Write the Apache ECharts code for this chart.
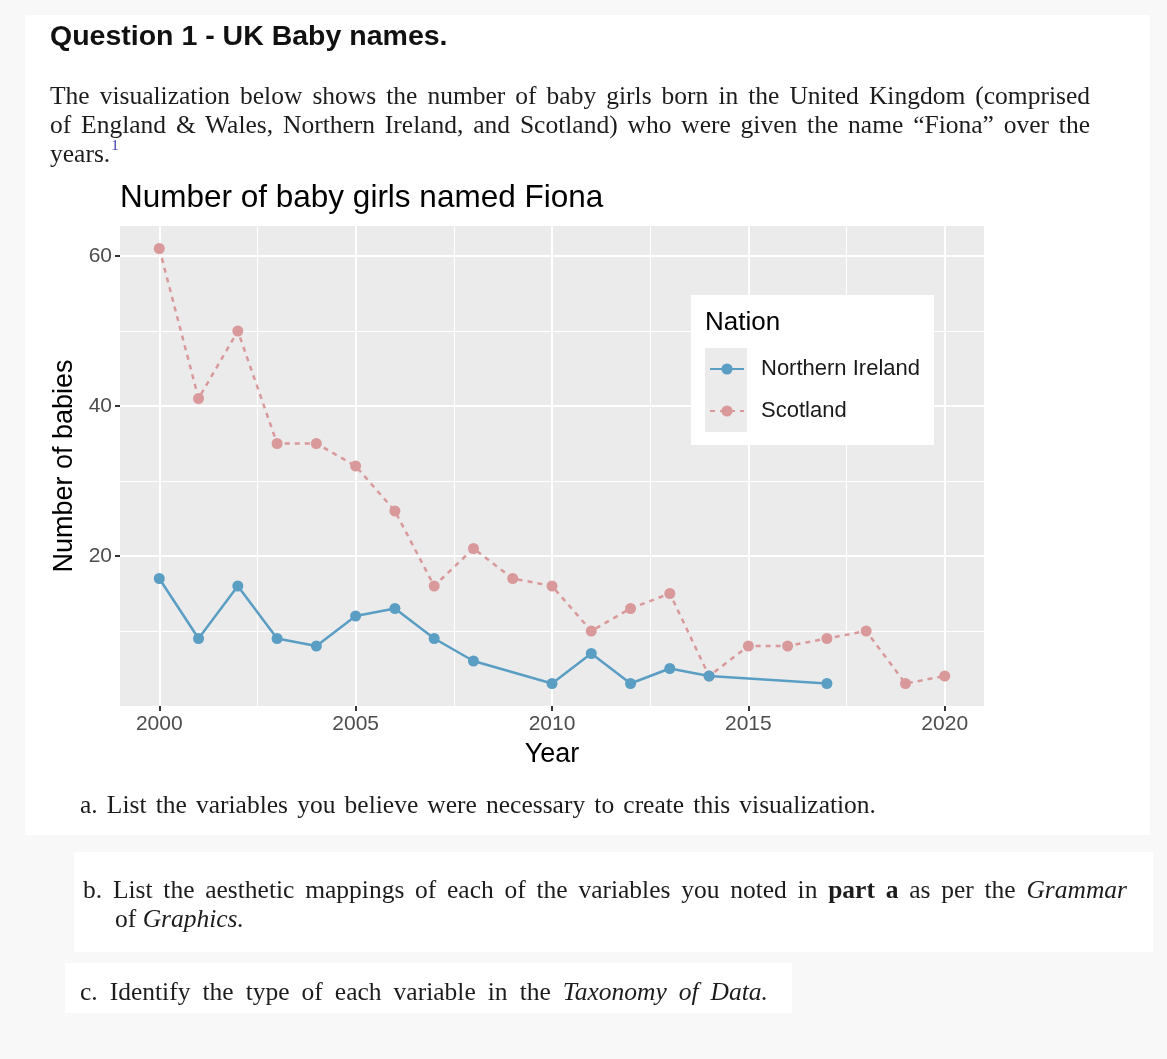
<!DOCTYPE html>
<html>
<head>
<meta charset="utf-8">
<script src="https://cdn.jsdelivr.net/npm/echarts@6/dist/echarts.min.js"></script>
<style>
  html, body { margin: 0; padding: 0; background: #f8f8f8; }
  #page { position: relative; width: 1167px; height: 1059px; overflow: hidden; }
  .card { position: absolute; background: #fff; z-index: 0; }
  #chart { position: absolute; left: 0; top: 0; width: 1167px; height: 1059px; z-index: 1; }
  .ln {
    position: absolute; z-index: 2; white-space: nowrap;
    font-family: 'Liberation Serif', 'Times New Roman', serif;
    font-size: 25.5px; line-height: 27px; color: #1c1c1c;
  }
  .jf { text-align: justify; text-align-last: justify; }
  .head {
    position: absolute; z-index: 2; left: 50px; top: 21px; white-space: nowrap;
    font-family: 'Liberation Sans', Arial, sans-serif; font-weight: bold;
    font-size: 28.5px; line-height: 28.5px; color: #111;
  }
  .fn { color: #3a3aa8; font-size: 15px; position: relative; top: -12px; margin-left: 1px; }
</style>
</head>
<body>
<div id="page">
  <div class="card" style="left:25px; top:15px; width:1125px; height:820px;"></div>
  <div class="card" style="left:74px; top:852px; width:1079px; height:100px;"></div>
  <div class="card" style="left:65px; top:963px; width:727px; height:50px;"></div>

  <div class="head">Question 1 - UK Baby names.</div>
  <div class="ln jf" style="left:50px; top:82px; width:1040px;">The visualization below shows the number of baby girls born in the United Kingdom (comprised</div>
  <div class="ln jf" style="left:50px; top:111px; width:1040px;">of England &amp; Wales, Northern Ireland, and Scotland) who were given the name &ldquo;Fiona&rdquo; over the</div>
  <div class="ln" style="left:50px; top:140px;">years.<span class="fn">1</span></div>

  <div id="chart"></div>

  <div class="ln jf" style="left:80px; top:791px; width:796px;">a. List the variables you believe were necessary to create this visualization.</div>
  <div class="ln jf" style="left:83px; top:876px; width:1044px;">b. List the aesthetic mappings of each of the variables you noted in <b>part a</b> as per the <i>Grammar</i></div>
  <div class="ln" style="left:115px; top:905px;">of <i>Graphics.</i></div>
  <div class="ln jf" style="left:80px; top:978px; width:688px;">c. Identify the type of each variable in the <i>Taxonomy of Data.</i></div>
</div>

<script>
// Northern Ireland (no records for 2009, 2015, 2016)
const niYears = [2000, 2001, 2002, 2003, 2004, 2005, 2006, 2007, 2008, 2010, 2011, 2012, 2013, 2014, 2017];
const niCounts = [17, 9, 16, 9, 8, 12, 13, 9, 6, 3, 7, 3, 5, 4, 3];

// Scotland
const scYears = [2000, 2001, 2002, 2003, 2004, 2005, 2006, 2007, 2008, 2009, 2010,
                 2011, 2012, 2013, 2014, 2015, 2016, 2017, 2018, 2019, 2020];
const scCounts = [61, 41, 50, 35, 35, 32, 26, 16, 21, 17, 16, 10, 13, 15, 4, 8, 8, 9, 10, 3, 4];

// axis breaks (ggplot style: major + minor)
const yearTicks = [2000, 2005, 2010, 2015, 2020];
const yearMinor = [2002.5, 2007.5, 2012.5, 2017.5];
const countTicks = [20, 40, 60];
const countMinor = [10, 30, 50];

const FONT = "'Liberation Sans', Arial, Helvetica, sans-serif";
const BLUE = '#5a9ec4';
const PINK = '#d9999b';

const chart = echarts.init(document.getElementById('chart'), null, { renderer: 'canvas' });

const gridLines = (name, xs, ys, width) => ({
  name: name,
  type: 'line',
  data: [],
  silent: true,
  z: 1,
  markLine: {
    silent: true,
    z: 1,
    animation: false,
    symbol: ['none', 'none'],
    label: { show: false },
    emphasis: { disabled: true },
    lineStyle: { color: '#ffffff', width: width, type: 'solid' },
    data: [...xs.map(v => ({ xAxis: v })), ...ys.map(v => ({ yAxis: v }))]
  }
});

const option = {
  animation: false,
  title: [
    {
      text: 'Number of baby girls named Fiona',
      left: 120, top: 182, padding: 0,
      textStyle: { fontFamily: FONT, fontSize: 31.5, fontWeight: 'normal', color: '#000' }
    },
    {
      text: 'Nation',
      left: 705, top: 310, padding: 0, z: 10,
      textStyle: { fontFamily: FONT, fontSize: 26, fontWeight: 'normal', color: '#000' }
    }
  ],
  grid: {
    left: 120, right: 183, top: 226, bottom: 353,
    show: true, backgroundColor: '#ebebeb', borderWidth: 0
  },
  xAxis: {
    type: 'value', min: 1999, max: 2021,
    name: 'Year', nameLocation: 'middle', nameGap: 35,
    nameTextStyle: { fontFamily: FONT, fontSize: 27, color: '#000' },
    axisLine: { show: false },
    axisTick: { show: true, customValues: yearTicks, length: 5, lineStyle: { color: '#333', width: 2 } },
    axisLabel: {
      customValues: yearTicks, margin: 8, fontFamily: FONT, fontSize: 21, color: '#4d4d4d',
      formatter: v => String(v)
    },
    splitLine: { show: false }
  },
  yAxis: {
    type: 'value', min: 0, max: 64,
    name: 'Number of babies', nameLocation: 'middle', nameGap: 37,
    nameTextStyle: { fontFamily: FONT, fontSize: 27, color: '#000' },
    axisLine: { show: false },
    axisTick: { show: true, customValues: countTicks, length: 5, lineStyle: { color: '#333', width: 2 } },
    axisLabel: {
      customValues: countTicks, margin: 8, fontFamily: FONT, fontSize: 21, color: '#4d4d4d',
      formatter: v => String(v)
    },
    splitLine: { show: false }
  },
  legend: {
    data: ['Northern Ireland', 'Scotland'],
    orient: 'vertical',
    left: 709, top: 358, padding: 0, z: 10,
    itemWidth: 34, itemHeight: 14, itemGap: 20,
    selectedMode: false,
    textStyle: { fontFamily: FONT, fontSize: 22, color: '#1a1a1a', padding: [0, 0, 0, 12] }
  },
  graphic: [
    { type: 'rect', z: 5, shape: { x: 691, y: 295, width: 243, height: 150 }, style: { fill: '#ffffff' } },
    { type: 'rect', z: 6, shape: { x: 705, y: 348, width: 42, height: 84 }, style: { fill: '#ebebeb' } }
  ],
  series: [
    gridLines('minor', yearMinor, countMinor, 1),
    gridLines('major', yearTicks, countTicks, 2),
    {
      name: 'Scotland',
      type: 'line',
      z: 2,
      data: scYears.map((y, i) => [y, scCounts[i]]),
      symbol: 'circle', symbolSize: 11, showSymbol: true,
      lineStyle: { color: PINK, width: 2.5, type: [5, 5] },
      itemStyle: { color: PINK },
      emphasis: { disabled: true }
    },
    {
      name: 'Northern Ireland',
      type: 'line',
      z: 3,
      data: niYears.map((y, i) => [y, niCounts[i]]),
      symbol: 'circle', symbolSize: 11, showSymbol: true,
      lineStyle: { color: BLUE, width: 2.5, type: 'solid' },
      itemStyle: { color: BLUE },
      emphasis: { disabled: true }
    }
  ]
};

chart.setOption(option);
</script>
</body>
</html>
